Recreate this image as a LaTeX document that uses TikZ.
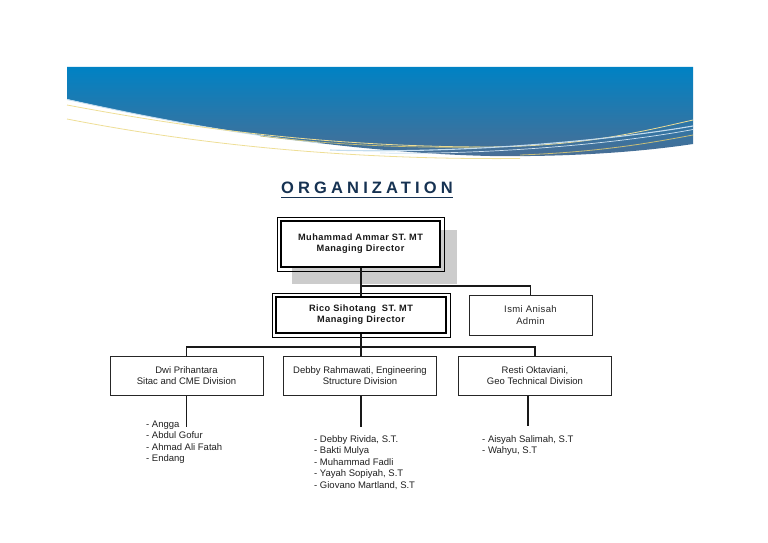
\documentclass[tikz,border=0pt]{standalone}
\usepackage{fontspec}
\setmainfont{Liberation Sans}
\definecolor{bannertop}{RGB}{0,130,196}
\definecolor{bannerbot}{RGB}{74,110,148}
\definecolor{titleblue}{RGB}{22,50,82}
\definecolor{goldline}{RGB}{200,190,120}
\definecolor{paleyellow}{RGB}{238,222,150}
\definecolor{lightblueline}{RGB}{195,220,238}
\definecolor{shadowgray}{RGB}{204,204,204}
\begin{document}
\begin{tikzpicture}[x=1pt,y=-1pt,
  conn/.style={line width=1.4pt, draw=black!90},
  headbox/.style={draw=black, line width=1.8pt, fill=white, inner sep=0pt, align=center,
    font=\fontsize{9.2}{11}\selectfont\bfseries\addfontfeature{LetterSpace=5}, text=black!90},
  outerframe/.style={draw=black, line width=0.8pt},
  plainbox/.style={draw=black!85, line width=1pt, fill=white, inner sep=0pt, align=center,
    font=\fontsize{9.5}{11.5}\selectfont\addfontfeature{LetterSpace=4}, text=black!85},
  divbox/.style={draw=black!85, line width=1pt, fill=white, inner sep=0pt, align=center,
    minimum width=153pt, minimum height=39pt, font=\fontsize{9.5}{11}\selectfont, text=black!88},
  members/.style={anchor=north west, inner sep=0pt, align=left,
    font=\fontsize{9.5}{11.5}\selectfont, text=black!88}
]
\useasboundingbox (0,0) rectangle (768,543);
% ---------- banner ----------
\shade[top color=bannertop, bottom color=bannerbot]
  (67,67) -- (693,67) -- (693,144)
  .. controls (640,152) and (570,157) .. (490,156)
  .. controls (360,153) and (200,130) .. (67,99) -- cycle;
\draw[lightblueline, line width=0.9pt] (67,99.5) .. controls (170,122) and (240,134) .. (320,143);
\draw[paleyellow, line width=0.8pt] (67,105) .. controls (200,130) and (330,146) .. (480,147)
  .. controls (580,147) and (640,132) .. (693,120);
\draw[goldline, line width=0.7pt] (260,136) .. controls (340,146) and (420,148) .. (480,147);
\draw[lightblueline, line width=1.1pt] (330,150) .. controls (450,154) and (600,142) .. (693,126);
\draw[lightblueline!80!white, line width=0.7pt] (380,153) .. controls (480,155) and (610,145) .. (693,129.5);
\draw[goldline, line width=0.8pt] (520,155) .. controls (600,152) and (650,143) .. (693,135);
\draw[paleyellow, line width=0.8pt] (67,119) .. controls (200,145) and (350,160) .. (520,158.5);
% ---------- title ----------
\node[inner sep=0pt, text=titleblue,
  font=\fontsize{16.5}{18}\selectfont\bfseries\addfontfeature{LetterSpace=25}]
  (title) at (367,188) {ORGANIZATION};
\draw[titleblue, line width=1.2pt] ([yshift=-4pt]title.base west) -- ([yshift=-4pt]title.base east);
% ---------- level 1 ----------
\fill[shadowgray] (292,230) rectangle (457,284);
\node[headbox, minimum width=159pt, minimum height=46pt] (md) at (360.5,244) {Muhammad Ammar ST. MT\\Managing Director};
\draw[outerframe] ([shift={(-3pt,3pt)}]md.north west) rectangle ([shift={(3pt,-3pt)}]md.south east);
% ---------- level 2 ----------
\node[headbox, minimum width=170pt, minimum height=36pt] (rico) at (361,315) {Rico Sihotang\ \ ST. MT\\Managing Director};
\draw[outerframe] ([shift={(-3pt,3pt)}]rico.north west) rectangle ([shift={(3pt,-3pt)}]rico.south east);
\node[plainbox, minimum width=123pt, minimum height=40pt] (ismi) at (530.5,315) {Ismi Anisah\\Admin};
\coordinate (j1) at (361,286);
\draw[conn] (md.south -| rico.north) -- (rico.north);
\draw[conn, line width=1.1pt] (j1) -| (ismi.north);
% ---------- level 3 ----------
\node[divbox] (dwi) at (186.5,376) {Dwi Prihantara\\Sitac and CME Division};
\node[divbox] (debby) at (360,376) {Debby Rahmawati, Engineering\\Structure Division};
\node[divbox] (resti) at (535,376) {Resti Oktaviani,\\Geo Technical Division};
\coordinate (j2) at (361,347);
\draw[conn] (rico.south) -- (j2);
\draw[conn, line width=1.1pt] (dwi.north) |- (j2) -| (resti.north);
\draw[conn, line width=1.1pt] (debby.north -| j2) -- (j2);
% ---------- members ----------
\coordinate (ea) at (186.5,427);
\coordinate (eb) at (361,427);
\coordinate (ec) at (528,426);
\draw[conn] (dwi.south) -- (ea);
\draw[conn] (debby.south -| eb) -- (eb);
\draw[conn] (resti.south -| ec) -- (ec);
\node[members] (ma) at (146,420.6) {- Angga\\- Abdul Gofur\\- Ahmad Ali Fatah\\- Endang};
\node[members] (mb) at (314,435.2) {- Debby Rivida, S.T.\\- Bakti Mulya\\- Muhammad Fadli\\- Yayah Sopiyah, S.T\\- Giovano Martland, S.T};
\node[members] (mc) at (482,435.2) {- Aisyah Salimah, S.T\\- Wahyu, S.T};
\end{tikzpicture}
\end{document}
